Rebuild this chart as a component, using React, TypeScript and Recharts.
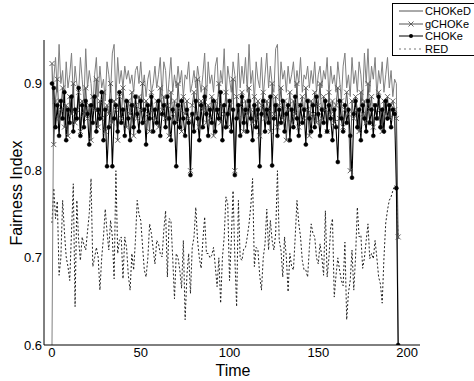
import { LineChart, Line, XAxis, YAxis } from 'recharts';

// fairness index per time step (t = 0..195)
const chokedValues = [
  0.600, 0.905, 0.930, 0.890, 0.945, 0.900, 0.915, 0.880, 0.925, 0.895,
  0.910, 0.935, 0.885, 0.920, 0.900, 0.890, 0.930, 0.905, 0.880, 0.940,
  0.895, 0.915, 0.900, 0.870, 0.910, 0.930, 0.885, 0.920, 0.895, 0.905,
  0.880, 0.925, 0.910, 0.890, 0.935, 0.945, 0.880, 0.930, 0.900, 0.915,
  0.895, 0.920, 0.905, 0.915, 0.900, 0.910, 0.890, 0.915, 0.920, 0.900,
  0.925, 0.895, 0.910, 0.885, 0.905, 0.915, 0.890, 0.900, 0.920, 0.895,
  0.910, 0.930, 0.885, 0.925, 0.915, 0.880, 0.905, 0.930, 0.890, 0.910,
  0.895, 0.920, 0.900, 0.915, 0.885, 0.910, 0.905, 0.925, 0.890, 0.900,
  0.915, 0.895, 0.920, 0.905, 0.890, 0.910, 0.935, 0.880, 0.925, 0.900,
  0.910, 0.890, 0.920, 0.930, 0.885, 0.915, 0.900, 0.940, 0.880, 0.920,
  0.905, 0.890, 0.925, 0.910, 0.885, 0.935, 0.895, 0.920, 0.900, 0.930,
  0.890, 0.945, 0.900, 0.915, 0.880, 0.925, 0.905, 0.895, 0.930, 0.885,
  0.910, 0.935, 0.895, 0.920, 0.900, 0.890, 0.940, 0.945, 0.880, 0.925,
  0.905, 0.915, 0.890, 0.920, 0.900, 0.910, 0.925, 0.895, 0.915, 0.900,
  0.930, 0.890, 0.910, 0.905, 0.920, 0.895, 0.915, 0.900, 0.925, 0.890,
  0.910, 0.920, 0.895, 0.915, 0.905, 0.930, 0.885, 0.920, 0.900, 0.910,
  0.890, 0.925, 0.905, 0.880, 0.920, 0.935, 0.895, 0.910, 0.885, 0.930,
  0.900, 0.915, 0.890, 0.925, 0.910, 0.880, 0.935, 0.900, 0.940, 0.890,
  0.920, 0.905, 0.930, 0.885, 0.915, 0.900, 0.925, 0.890, 0.910, 0.930,
  0.895, 0.915, 0.885, 0.905, 0.900, 0.600,
];

const gchokeValues = [
  0.923, 0.830, 0.880, 0.905, 0.860, 0.870, 0.895, 0.850, 0.875, 0.840,
  0.885, 0.865, 0.900, 0.855, 0.870, 0.890, 0.845, 0.880, 0.865, 0.895,
  0.860, 0.875, 0.835, 0.885, 0.870, 0.905, 0.850, 0.880, 0.860, 0.890,
  0.845, 0.875, 0.865, 0.900, 0.855, 0.880, 0.870, 0.835, 0.885, 0.860,
  0.895, 0.870, 0.850, 0.880, 0.865, 0.890, 0.840, 0.875, 0.860, 0.885,
  0.870, 0.900, 0.855, 0.880, 0.865, 0.845, 0.890, 0.870, 0.860, 0.880,
  0.850, 0.895, 0.870, 0.885, 0.860, 0.875, 0.840, 0.890, 0.865, 0.880,
  0.855, 0.900, 0.870, 0.845, 0.885, 0.865, 0.880, 0.860, 0.800, 0.875,
  0.890, 0.865, 0.905, 0.850, 0.880, 0.870, 0.895, 0.855, 0.875, 0.860,
  0.885, 0.840, 0.880, 0.870, 0.900, 0.855, 0.875, 0.865, 0.890, 0.850,
  0.880, 0.870, 0.905, 0.800, 0.885, 0.860, 0.875, 0.890, 0.845, 0.880,
  0.865, 0.895, 0.870, 0.855, 0.885, 0.860, 0.880, 0.840, 0.875, 0.890,
  0.860, 0.880, 0.870, 0.845, 0.900, 0.865, 0.885, 0.850, 0.875, 0.895,
  0.860, 0.880, 0.835, 0.870, 0.890, 0.855, 0.880, 0.865, 0.900, 0.850,
  0.875, 0.885, 0.860, 0.895, 0.870, 0.840, 0.880, 0.865, 0.890, 0.855,
  0.875, 0.900, 0.860, 0.885, 0.870, 0.845, 0.890, 0.865, 0.880, 0.855,
  0.875, 0.895, 0.860, 0.880, 0.850, 0.870, 0.890, 0.865, 0.800, 0.880,
  0.860, 0.885, 0.870, 0.845, 0.890, 0.865, 0.880, 0.855, 0.900, 0.870,
  0.885, 0.850, 0.875, 0.860, 0.890, 0.870, 0.845, 0.880, 0.865, 0.885,
  0.860, 0.875, 0.880, 0.870, 0.860, 0.724,
];

const chokeValues = [
  0.900, 0.895, 0.850, 0.875, 0.840, 0.880, 0.860, 0.890, 0.835, 0.870,
  0.855, 0.885, 0.845, 0.870, 0.860, 0.895, 0.840, 0.875, 0.850, 0.880,
  0.865, 0.830, 0.875, 0.855, 0.885, 0.845, 0.870, 0.860, 0.890, 0.835,
  0.870, 0.805, 0.850, 0.880, 0.805, 0.860, 0.875, 0.845, 0.890, 0.855,
  0.870, 0.840, 0.880, 0.860, 0.835, 0.875, 0.850, 0.885, 0.865, 0.845,
  0.880, 0.855, 0.870, 0.830, 0.875, 0.860, 0.885, 0.845, 0.870, 0.855,
  0.880, 0.840, 0.865, 0.875, 0.850, 0.885, 0.860, 0.835, 0.870, 0.855,
  0.805, 0.875, 0.850, 0.880, 0.860, 0.840, 0.870, 0.855, 0.795, 0.865,
  0.845, 0.880, 0.860, 0.835, 0.875, 0.850, 0.885, 0.865, 0.840, 0.870,
  0.855, 0.880, 0.845, 0.870, 0.860, 0.890, 0.835, 0.875, 0.850, 0.865,
  0.880, 0.845, 0.870, 0.795, 0.860, 0.875, 0.840, 0.885, 0.855, 0.870,
  0.845, 0.880, 0.860, 0.835, 0.875, 0.850, 0.870, 0.805, 0.865, 0.880,
  0.845, 0.870, 0.855, 0.885, 0.806, 0.860, 0.875, 0.840, 0.870, 0.855,
  0.880, 0.845, 0.865, 0.875, 0.835, 0.870, 0.850, 0.885, 0.860, 0.840,
  0.875, 0.855, 0.870, 0.830, 0.880, 0.860, 0.845, 0.875, 0.850, 0.885,
  0.865, 0.840, 0.870, 0.855, 0.880, 0.845, 0.875, 0.860, 0.835, 0.870,
  0.850, 0.810, 0.880, 0.860, 0.845, 0.875, 0.855, 0.870, 0.840, 0.792,
  0.865, 0.880, 0.850, 0.870, 0.835, 0.875, 0.860, 0.845, 0.880, 0.855,
  0.870, 0.840, 0.875, 0.860, 0.885, 0.850, 0.870, 0.845, 0.880, 0.860,
  0.875, 0.850, 0.870, 0.865, 0.780, 0.600,
];

const redValues = [
  0.740, 0.780, 0.745, 0.765, 0.680, 0.700, 0.766, 0.730, 0.701, 0.690,
  0.674, 0.730, 0.785, 0.644, 0.766, 0.720, 0.697, 0.724, 0.715, 0.709,
  0.730, 0.751, 0.791, 0.690, 0.700, 0.712, 0.701, 0.663, 0.700, 0.724,
  0.756, 0.730, 0.709, 0.743, 0.724, 0.676, 0.800, 0.705, 0.720, 0.724,
  0.676, 0.724, 0.712, 0.680, 0.663, 0.705, 0.686, 0.720, 0.766, 0.750,
  0.743, 0.714, 0.686, 0.678, 0.700, 0.739, 0.728, 0.710, 0.693, 0.720,
  0.716, 0.705, 0.701, 0.732, 0.754, 0.678, 0.745, 0.743, 0.700, 0.653,
  0.705, 0.700, 0.686, 0.665, 0.720, 0.629, 0.680, 0.705, 0.659, 0.712,
  0.724, 0.758, 0.720, 0.700, 0.688, 0.720, 0.747, 0.705, 0.705, 0.700,
  0.703, 0.712, 0.690, 0.667, 0.700, 0.648, 0.700, 0.724, 0.770, 0.762,
  0.674, 0.720, 0.777, 0.700, 0.644, 0.766, 0.700, 0.697, 0.710, 0.712,
  0.724, 0.739, 0.760, 0.791, 0.690, 0.712, 0.709, 0.680, 0.663, 0.700,
  0.716, 0.756, 0.709, 0.743, 0.720, 0.709, 0.728, 0.800, 0.720, 0.709,
  0.678, 0.724, 0.701, 0.661, 0.705, 0.690, 0.686, 0.724, 0.766, 0.740,
  0.724, 0.697, 0.686, 0.686, 0.678, 0.712, 0.739, 0.728, 0.724, 0.700,
  0.693, 0.716, 0.701, 0.680, 0.754, 0.678, 0.700, 0.735, 0.745, 0.655,
  0.680, 0.700, 0.686, 0.674, 0.668, 0.718, 0.629, 0.660, 0.674, 0.709,
  0.663, 0.701, 0.758, 0.724, 0.726, 0.688, 0.700, 0.720, 0.739, 0.699,
  0.705, 0.699, 0.720, 0.700, 0.678, 0.670, 0.648, 0.700, 0.740, 0.755,
  0.766, 0.770, 0.777, 0.783, 0.780, 0.720,
];

const xTicks = [0, 50, 100, 150, 200];
const yTicks = [0.6, 0.7, 0.8, 0.9];

const data = chokedValues.map((v, i) => ({
  t: i,
  choked: v,
  gchoke: gchokeValues[i],
  choke: chokeValues[i],
  red: redValues[i],
}));

const font = '"Liberation Sans", Arial, sans-serif';

function CrossDot(props: any) {
  const { cx, cy } = props;
  if (cx == null || cy == null) return null;
  const s = 2.5;
  return (
    <g>
      <line x1={cx - s} y1={cy - s} x2={cx + s} y2={cy + s} stroke="#555" strokeWidth={0.9} />
      <line x1={cx - s} y1={cy + s} x2={cx + s} y2={cy - s} stroke="#555" strokeWidth={0.9} />
    </g>
  );
}

function LegendBox() {
  const rows = [
    { name: 'CHOKeD', kind: 'line' },
    { name: 'gCHOKe', kind: 'cross' },
    { name: 'CHOKe', kind: 'dot' },
    { name: 'RED', kind: 'dash' },
  ];
  return (
    <div
      style={{
        position: 'absolute',
        left: 392,
        top: 3,
        width: 90,
        height: 51,
        border: '1px solid #000',
        background: '#fff',
        fontFamily: font,
        fontSize: 11,
      }}
    >
      {rows.map((r, i) => (
        <div
          key={r.name}
          style={{ position: 'absolute', left: 5, top: 1 + i * 12.5, height: 12, display: 'flex', alignItems: 'center' }}
        >
          <svg width={26} height={12}>
            {r.kind === 'dash' ? (
              <line x1={1} y1={6} x2={25} y2={6} stroke="#777" strokeWidth={1} strokeDasharray="2 3" />
            ) : (
              <line x1={1} y1={6} x2={25} y2={6} stroke={r.kind === 'dot' ? '#000' : '#555'} strokeWidth={1} />
            )}
            {r.kind === 'cross' && (
              <g>
                <line x1={10.5} y1={3.5} x2={15.5} y2={8.5} stroke="#555" strokeWidth={0.9} />
                <line x1={10.5} y1={8.5} x2={15.5} y2={3.5} stroke="#555" strokeWidth={0.9} />
              </g>
            )}
            {r.kind === 'dot' && <circle cx={13} cy={6} r={2} fill="#000" />}
          </svg>
          <span style={{ marginLeft: 1, lineHeight: '12px' }}>{r.name}</span>
        </div>
      ))}
    </div>
  );
}

export default function App() {
  return (
    <div style={{ position: 'absolute', left: 0, top: 0, width: 474, height: 381, background: '#fff', overflow: 'hidden' }}>
      <LineChart width={474} height={381} data={data} margin={{ top: 40, right: 54, bottom: 16, left: 14 }}>
        <XAxis
          dataKey="t"
          type="number"
          domain={[-4.5, 207.3]}
          ticks={xTicks}
          allowDataOverflow
          height={20}
          tickLine={false}
          tickSize={0}
          tickMargin={3}
          axisLine={{ stroke: '#000', strokeWidth: 1 }}
          tick={{ fill: '#000', fontSize: 13, fontFamily: font }}
        />
        <YAxis
          type="number"
          domain={[0.6, 0.95]}
          ticks={yTicks}
          allowDataOverflow
          width={30}
          tickLine={false}
          tickSize={0}
          tickMargin={2}
          axisLine={{ stroke: '#000', strokeWidth: 1 }}
          tickFormatter={(v: number) => v.toFixed(1)}
          tick={{ fill: '#000', fontSize: 13, fontFamily: font }}
        />
        <Line
          dataKey="red"
          stroke="#222"
          strokeWidth={1}
          strokeDasharray="2 2"
          dot={false}
          isAnimationActive={false}
        />
        <Line dataKey="choked" stroke="#808080" strokeWidth={1} dot={false} isAnimationActive={false} />
        <Line
          dataKey="gchoke"
          stroke="#555"
          strokeWidth={1}
          dot={(p: any) => <CrossDot key={`x-${p.index}`} {...p} />}
          isAnimationActive={false}
        />
        <Line
          dataKey="choke"
          stroke="#000"
          strokeWidth={1.1}
          dot={{ r: 2, fill: '#000', stroke: '#000', strokeWidth: 0.5 }}
          isAnimationActive={false}
        />
      </LineChart>
      <div style={{ position: 'absolute', left: 200, top: 362, width: 66, textAlign: 'center', fontFamily: font, fontSize: 16 }}>
        Time
      </div>
      <div
        style={{
          position: 'absolute',
          left: 17,
          top: 193,
          transform: 'translate(-50%, -50%) rotate(-90deg)',
          whiteSpace: 'nowrap',
          fontFamily: font,
          fontSize: 16,
        }}
      >
        Fairness Index
      </div>
      <LegendBox />
    </div>
  );
}
